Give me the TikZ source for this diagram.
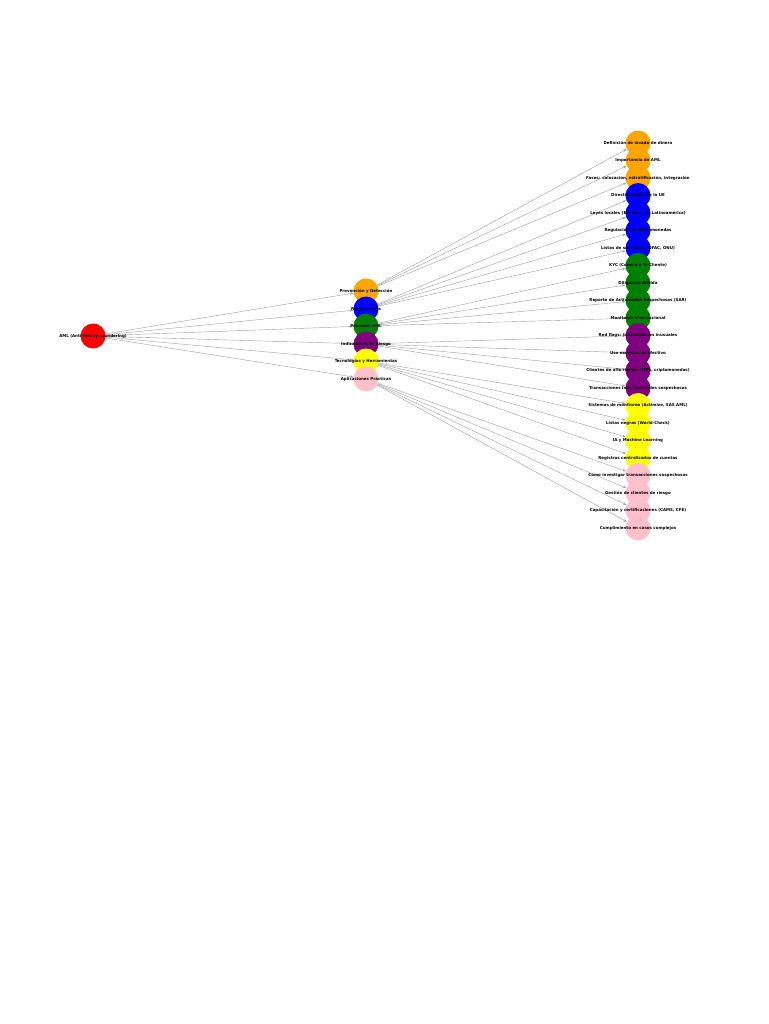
\documentclass[tikz,border=0pt]{standalone}
\usepackage{fontspec}
\setmainfont{DejaVu Sans}
\usetikzlibrary{arrows.meta}

\definecolor{nxred}{RGB}{255,0,0}
\definecolor{nxorange}{RGB}{255,165,0}
\definecolor{nxblue}{RGB}{0,0,255}
\definecolor{nxgreen}{RGB}{0,128,0}
\definecolor{nxpurple}{RGB}{128,0,128}
\definecolor{nxyellow}{RGB}{255,255,0}
\definecolor{nxpink}{RGB}{255,192,203}

\begin{document}
\begin{tikzpicture}[
			x=0.75pt, y=-0.75pt,
			dot/.style={
				circle,
				minimum size=18.75pt,
				inner sep=0pt
			},
			lbl/.style={
				inner sep=0pt,
				font=\fontsize{3}{3.6}\selectfont\bfseries
			},
			arrow/.style={
				-{Stealth[length=2.6pt,width=1.8pt]},
				draw=gray!75,
				line width=0.3pt
			}
			]
			\useasboundingbox (0,0) rectangle (768,1024);
			
			% root
			\node (aml) [dot, fill=nxred] at (93,336) {};
			
			% categories
			\node (prev) [dot, fill=nxorange] at (366,291) {};
			\node (reg) [dot, fill=nxblue] at (366,309) {};
			\node (proc) [dot, fill=nxgreen] at (366,326) {};
			\node (ind) [dot, fill=nxpurple] at (366,344) {};
			\node (tec) [dot, fill=nxyellow] at (366,361) {};
			\node (apl) [dot, fill=nxpink] at (366,379) {};
			
			% topics
			\node (def) [dot, fill=nxorange] at (638,143) {};
			\node (imp) [dot, fill=nxorange] at (638,160.5) {};
			\node (fas) [dot, fill=nxorange] at (638,178) {};
			\node (dir) [dot, fill=nxblue] at (638,195.5) {};
			\node (ley) [dot, fill=nxblue] at (638,213) {};
			\node (cri) [dot, fill=nxblue] at (638,230.5) {};
			\node (san) [dot, fill=nxblue] at (638,248) {};
			\node (kyc) [dot, fill=nxgreen] at (638,265.5) {};
			\node (dil) [dot, fill=nxgreen] at (638,283) {};
			\node (sar) [dot, fill=nxgreen] at (638,300.5) {};
			\node (mon) [dot, fill=nxgreen] at (638,318) {};
			\node (red) [dot, fill=nxpurple] at (638,335.5) {};
			\node (efe) [dot, fill=nxpurple] at (638,353) {};
			\node (cli) [dot, fill=nxpurple] at (638,370.5) {};
			\node (tri) [dot, fill=nxpurple] at (638,388) {};
			\node (sis) [dot, fill=nxyellow] at (638,405.5) {};
			\node (neg) [dot, fill=nxyellow] at (638,423) {};
			\node (ia) [dot, fill=nxyellow] at (638,440.5) {};
			\node (rcc) [dot, fill=nxyellow] at (638,458) {};
			\node (inv) [dot, fill=nxpink] at (638,475.5) {};
			\node (ges) [dot, fill=nxpink] at (638,493) {};
			\node (cap) [dot, fill=nxpink] at (638,510.5) {};
			\node (cum) [dot, fill=nxpink] at (638,528) {};
			
			\draw [arrow] (aml) -- (prev);
			\draw [arrow] (aml) -- (reg);
			\draw [arrow] (aml) -- (proc);
			\draw [arrow] (aml) -- (ind);
			\draw [arrow] (aml) -- (tec);
			\draw [arrow] (aml) -- (apl);
			
			\draw [arrow] (prev) -- (def);
			\draw [arrow] (prev) -- (imp);
			\draw [arrow] (prev) -- (fas);
			\draw [arrow] (reg) -- (dir);
			\draw [arrow] (reg) -- (ley);
			\draw [arrow] (reg) -- (cri);
			\draw [arrow] (reg) -- (san);
			\draw [arrow] (proc) -- (kyc);
			\draw [arrow] (proc) -- (dil);
			\draw [arrow] (proc) -- (sar);
			\draw [arrow] (proc) -- (mon);
			\draw [arrow] (ind) -- (red);
			\draw [arrow] (ind) -- (efe);
			\draw [arrow] (ind) -- (cli);
			\draw [arrow] (ind) -- (tri);
			\draw [arrow] (tec) -- (sis);
			\draw [arrow] (tec) -- (neg);
			\draw [arrow] (tec) -- (ia);
			\draw [arrow] (tec) -- (rcc);
			\draw [arrow] (apl) -- (inv);
			\draw [arrow] (apl) -- (ges);
			\draw [arrow] (apl) -- (cap);
			\draw [arrow] (apl) -- (cum);
			
			% labels on top
			\node (aml-t) [lbl] at (aml) {AML (Anti-Money Laundering)};
			\node (prev-t) [lbl] at (prev) {Prevención y Detección};
			\node (reg-t) [lbl] at (reg) {Regulaciones};
			\node (proc-t) [lbl] at (proc) {Procesos AML};
			\node (ind-t) [lbl] at (ind) {Indicadores de Riesgo};
			\node (tec-t) [lbl] at (tec) {Tecnologías y Herramientas};
			\node (apl-t) [lbl] at (apl) {Aplicaciones Prácticas};
			\node (def-t) [lbl] at (def) {Definición de lavado de dinero};
			\node (imp-t) [lbl] at (imp) {Importancia de AML};
			\node (fas-t) [lbl] at (fas) {Fases: colocación, estratificación, integración};
			\node (dir-t) [lbl] at (dir) {Directivas AML de la UE};
			\node (ley-t) [lbl] at (ley) {Leyes locales (EE. UU., UE, Latinoamérica)};
			\node (cri-t) [lbl] at (cri) {Regulación de criptomonedas};
			\node (san-t) [lbl] at (san) {Listas de sanciones (OFAC, ONU)};
			\node (kyc-t) [lbl] at (kyc) {KYC (Conoce a tu Cliente)};
			\node (dil-t) [lbl] at (dil) {Diligencia debida};
			\node (sar-t) [lbl] at (sar) {Reporte de Actividades Sospechosas (SAR)};
			\node (mon-t) [lbl] at (mon) {Monitoreo transaccional};
			\node (red-t) [lbl] at (red) {Red flags: transacciones inusuales};
			\node (efe-t) [lbl] at (efe) {Uso excesivo de efectivo};
			\node (cli-t) [lbl] at (cli) {Clientes de alto riesgo (PEPs, criptomonedas)};
			\node (tri-t) [lbl] at (tri) {Transacciones internacionales sospechosas};
			\node (sis-t) [lbl] at (sis) {Sistemas de monitoreo (Actimize, SAS AML)};
			\node (neg-t) [lbl] at (neg) {Listas negras (World-Check)};
			\node (ia-t) [lbl] at (ia) {IA y Machine Learning};
			\node (rcc-t) [lbl] at (rcc) {Registros centralizados de cuentas};
			\node (inv-t) [lbl] at (inv) {Cómo investigar transacciones sospechosas};
			\node (ges-t) [lbl] at (ges) {Gestión de clientes de riesgo};
			\node (cap-t) [lbl] at (cap) {Capacitación y certificaciones (CAMS, CFE)};
			\node (cum-t) [lbl] at (cum) {Cumplimiento en casos complejos};
			
		\end{tikzpicture}
\end{document}
